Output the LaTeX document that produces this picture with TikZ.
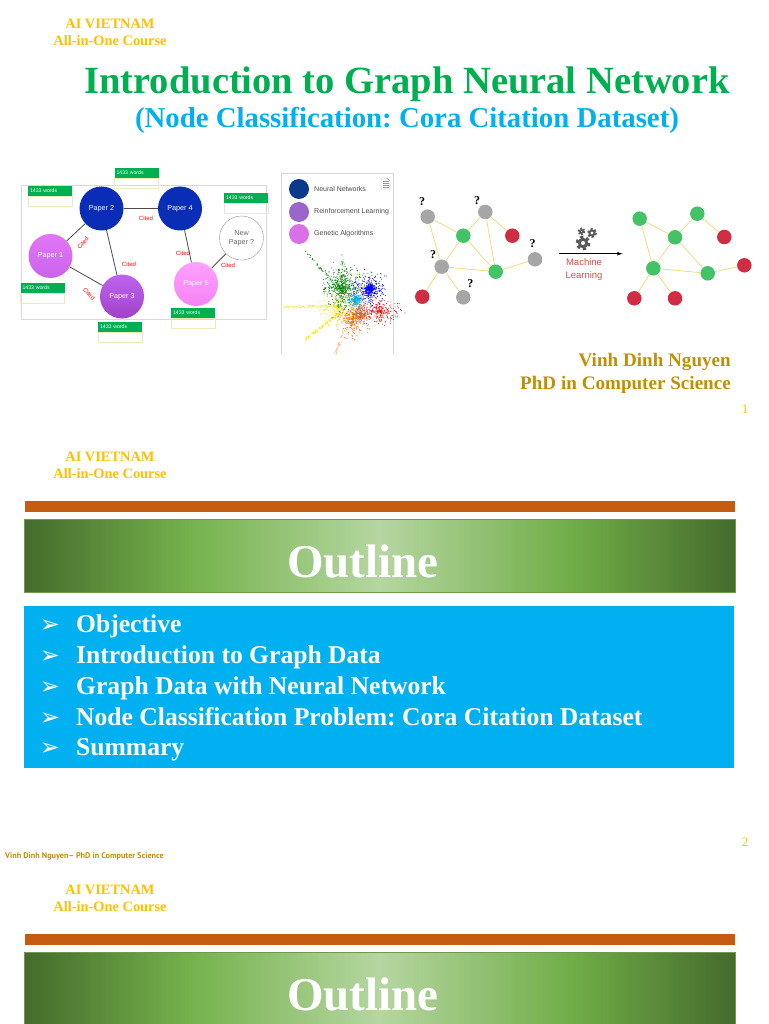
\documentclass[tikz,border=0pt]{standalone}
\usepackage{fontspec}
\setmainfont{Liberation Serif}
\setsansfont{Liberation Sans}
\newfontfamily\symfont{DejaVu Sans}
\newfontfamily\footfont{PT Sans}
\usetikzlibrary{positioning}
\frenchspacing
\definecolor{aigold}{HTML}{FFC000}
\definecolor{authorgold}{HTML}{BF9000}
\definecolor{titlegreen}{HTML}{00B050}
\definecolor{skyblue}{HTML}{00B0F0}
\definecolor{rustbar}{HTML}{C55A11}
\definecolor{nodegreen}{HTML}{44C267}
\definecolor{nodered}{HTML}{D02C42}
\definecolor{nodegray}{HTML}{A6A6A6}
\definecolor{edgeyellow}{HTML}{F5D76E}
\definecolor{paperblue}{HTML}{0A2DB8}
\definecolor{wordrim}{HTML}{EFE9C0}
\definecolor{bandrim}{HTML}{6E9A4E}
\pgfdeclarehorizontalshading{outlineband}{100bp}{
	rgb(0bp)=(0.27,0.42,0.17);
	rgb(25bp)=(0.27,0.42,0.17);
	rgb(36.75bp)=(0.46,0.70,0.30);
	rgb(50bp)=(0.71,0.84,0.63);
	rgb(63.5bp)=(0.44,0.68,0.28);
	rgb(75bp)=(0.27,0.42,0.17);
	rgb(100bp)=(0.27,0.42,0.17)}
\newcommand{\pxfont}[1]{\fontsize{#1}{#1}\selectfont}
% dots around a centre
\newcommand{\scatterblob}[6]{
	\foreach \i in {1,...,#6} {
		\pgfmathsetmacro{\dotx}{#2+#4*rand*rnd}
		\pgfmathsetmacro{\doty}{#3+#5*rand*rnd}
		\fill[#1] (\dotx,\doty) circle (0.5);
	}
}
% dots along a ray
\newcommand{\scatterray}[6]{
	\foreach \i in {1,...,#6} {
		\pgfmathsetmacro{\raypos}{rnd}
		\pgfmathsetmacro{\dotx}{#2+(#4-#2)*\raypos+1.2*rand}
		\pgfmathsetmacro{\doty}{#3+(#5-#3)*\raypos+1.2*rand}
		\fill[#1] (\dotx,\doty) circle (0.5);
	}
}
\newcommand{\gearicon}[3]{
	\draw[black!65, line width=#3*0.45, dash pattern=on #3*0.5 off #3*0.5] (#1,#2) circle (#3*0.95);
	\draw[black!65, line width=#3*0.45] (#1,#2) circle (#3*0.6);
}
\tikzset{
	aiheader/.style={text=aigold, font=\bfseries\pxfont{14.4}, align=center},
	papernode/.style={circle, minimum size=44pt, inner sep=0pt, text=white, font=\sffamily\pxfont{7.2}},
	cited/.style={text=red, font=\sffamily\pxfont{6}, inner sep=0pt},
	citeline/.style={black!70, line width=0.8pt},
	wordhead/.style={fill=titlegreen, text=white, font=\sffamily\pxfont{5.2}, minimum width=44pt, minimum height=10pt, inner sep=0pt, text width=40pt, align=left},
	wordbox/.style={draw=wordrim, line width=0.6pt, minimum width=44pt, minimum height=10pt, inner sep=0pt},
	graphnode/.style={circle, minimum size=14.5pt, inner sep=0pt},
	greennode/.style={graphnode, fill=nodegreen},
	rednode/.style={graphnode, fill=nodered},
	graynode/.style={graphnode, fill=nodegray},
	graphedge/.style={edgeyellow, line width=0.7pt},
	query/.style={font=\bfseries\pxfont{12}, inner sep=0pt},
	legendtext/.style={text=black!70, font=\sffamily\pxfont{7}, anchor=west, inner sep=0pt},
	legenddisc/.style={circle, minimum size=20pt, inner sep=0pt},
	outlinetext/.style={text=white, font=\bfseries\pxfont{47}},
	bullettext/.style={text=white, font=\bfseries\pxfont{25.6}, anchor=base west, inner sep=0pt},
	bulletmark/.style={text=white, font=\symfont\bfseries\pxfont{24}, anchor=base, inner sep=0pt},
	authortext/.style={text=authorgold, font=\bfseries\pxfont{19.1}, anchor=east, inner sep=0pt},
	pagenum/.style={text=aigold, font=\pxfont{13}, inner sep=0pt},
}
\begin{document}
\begin{tikzpicture}[x=1pt, y=-1pt]
	\useasboundingbox (0,0) rectangle (768,1024);
	\fill[white] (0,0) rectangle (768,1024);
	\pgfmathsetseed{4711}

	% first slide
	\node[aiheader] (ai_1) at (110,24) {AI VIETNAM};
	\node[aiheader] (course_1) at (110,41) {All-in-One Course};
	\node[text=titlegreen, font=\bfseries\pxfont{38.5}] (title) at (407,84) {Introduction to Graph Neural Network};
	\node[text=skyblue, font=\bfseries\pxfont{28.8}] (subtitle) at (407,120) {(Node Classification: Cora Citation Dataset)};

	% papers
	\draw[black!15, line width=0.7pt] (21,185) rectangle (266,319);
	\node[papernode, fill=paperblue] (paper_2) at (101.5,208.5) {Paper 2};
	\node[papernode, fill=paperblue] (paper_4) at (180,208.5) {Paper 4};
	\node[papernode, top color={rgb,255:red,228;green,118;blue,248}, bottom color={rgb,255:red,200;green,100;blue,235}] (paper_1) at (50.5,256) {Paper 1};
	\node[papernode, top color={rgb,255:red,190;green,100;blue,240}, bottom color={rgb,255:red,160;green,65;blue,200}] (paper_3) at (122,296.5) {Paper 3};
	\node[papernode, top color={rgb,255:red,255;green,160;blue,255}, bottom color={rgb,255:red,245;green,130;blue,245}] (paper_5) at (196,284) {Paper 5};
	\node[papernode, draw=black!40, fill=white, text=black!60, align=center] (paper_new) at (241.5,238) {New\\[2pt]Paper ?};
	\draw[citeline] (paper_2) -- (paper_4);
	\draw[citeline] (paper_2) -- (paper_1);
	\draw[citeline] (paper_2) -- (paper_3);
	\draw[citeline] (paper_1) -- (paper_3);
	\draw[citeline] (paper_4) -- (paper_5);
	\draw[citeline] (paper_5) -- (paper_new);
	\node[cited] (cite_a) at (146,218) {Cited};
	\node[cited, rotate=50] (cite_b) at (83,243) {Cited};
	\node[cited] (cite_c) at (129,264) {Cited};
	\node[cited] (cite_d) at (183,253) {Cited};
	\node[cited] (cite_e) at (228,265) {Cited};
	\node[cited, rotate=-45] (cite_f) at (89,294) {Cited};
	\foreach \wx/\wy [count=\wn] in {136.5/173, 50/191, 246/198, 42.5/288, 193/313, 120/327} {
		\node[wordhead] (head_\wn) at (\wx,\wy) {1433 words};
		\node[wordbox, below=0pt of head_\wn] (box_\wn) {};
	}

	% cluster panel
	\draw[black!15, line width=0.6pt] (281,355) -- (281,173) -- (393,173) -- (393,355);
	\node[legenddisc, fill={rgb,255:red,10;green,58;blue,140}] (legend_1) at (299,189) {};
	\node[legenddisc, fill={rgb,255:red,153;green,102;blue,204}] (legend_2) at (299,212) {};
	\node[legenddisc, fill={rgb,255:red,218;green,112;blue,232}] (legend_3) at (299,234) {};
	\node[legendtext] (label_1) at (314,189) {Neural Networks};
	\node[legendtext] (label_2) at (314,212) {Reinforcement Learning};
	\node[legendtext] (label_3) at (314,234) {Genetic Algorithms};
	\draw[black!40, line width=0.4pt, fill=white] (381,178) -- (387,178) -- (390,181) -- (390,189) -- (381,189) -- cycle;
	\foreach \ly in {181.5,183.5,185.5,187} {
		\draw[black!40, line width=0.3pt] (382.5,\ly) -- (388.5,\ly);
	}
	\scatterray{yellow!90!orange}{340}{306}{282}{307}{90}
	\scatterray{yellow!90!orange}{340}{312}{305}{340}{110}
	\scatterray{orange!60!white}{350}{315}{335}{355}{60}
	\scatterray{green!50!black}{335}{285}{305}{251}{45}
	\scatterray{green!40!black!50}{345}{290}{342}{254}{25}
	\scatterblob{yellow!90!orange}{338}{310}{26}{22}{200}
	\scatterblob{green!50!black}{342}{288}{24}{28}{600}
	\scatterblob{orange!85!red}{353}{318}{22}{24}{350}
	\scatterblob{blue}{370}{289}{20}{20}{350}
	\scatterblob{red!90!black}{380}{311}{26}{17}{260}
	\scatterblob{brown!80!red}{361}{314}{13}{13}{220}
	\scatterblob{cyan}{355}{300}{10}{9}{200}
	\scatterblob{blue}{370}{289}{7}{7}{150}

	% graph before
	\node[graynode] (a_1) at (427.7,216.7) {};
	\node[greennode] (a_2) at (463.3,235.7) {};
	\node[graynode] (a_3) at (485.3,212) {};
	\node[rednode] (a_4) at (512.3,235.7) {};
	\node[graynode] (a_5) at (535,259.3) {};
	\node[greennode] (a_6) at (495.7,271.7) {};
	\node[graynode] (a_7) at (441.7,266.7) {};
	\node[rednode] (a_8) at (422.3,296.7) {};
	\node[graynode] (a_9) at (463.3,297.3) {};
	\foreach \from/\to in {1/2,1/7,2/3,2/7,2/6,3/4,3/6,5/6,6/7,7/8,7/9} {
		\draw[graphedge] (a_\from) -- (a_\to);
	}
	\node[query] (q_1) at (422,201.7) {?};
	\node[query] (q_2) at (477,200.7) {?};
	\node[query] (q_3) at (433,255) {?};
	\node[query] (q_4) at (532.7,244) {?};
	\node[query] (q_5) at (470.3,284) {?};

	% machine learning arrow
	\coordinate (ml_start) at (558.5,253.7);
	\coordinate (ml_end) at (622.5,253.7);
	\draw[-latex, black, line width=0.8pt] (ml_start) -- (ml_end);
	\gearicon{583}{243}{6.2}
	\gearicon{581.5}{231.5}{3.3}
	\gearicon{592}{233}{4.2}
	\node[text={rgb,255:red,208;green,80;blue,74}, font=\sffamily\pxfont{9.5}, align=center, inner sep=0pt] (ml_label) at (584,269.5) {Machine\\[3pt]Learning};

	% graph after
	\node[greennode] (b_1) at (639.7,218.7) {};
	\node[greennode] (b_2) at (675,237.3) {};
	\node[greennode] (b_3) at (697.3,213.7) {};
	\node[rednode] (b_4) at (724.3,237) {};
	\node[rednode] (b_5) at (744.3,265.3) {};
	\node[greennode] (b_6) at (707.7,273.3) {};
	\node[greennode] (b_7) at (653.3,268.3) {};
	\node[rednode] (b_8) at (634.3,298.3) {};
	\node[rednode] (b_9) at (675,298.3) {};
	\foreach \from/\to in {1/2,1/7,2/3,2/7,2/6,3/4,5/6,6/7,7/8,7/9} {
		\draw[graphedge] (b_\from) -- (b_\to);
	}

	\node[authortext] (author) at (731,362) {Vinh Dinh Nguyen};
	\node[authortext] (degree) at (731,385) {PhD in Computer Science};
	\node[pagenum] (page_1) at (745,409) {1};

	% second slide
	\node[aiheader] (ai_2) at (110,457) {AI VIETNAM};
	\node[aiheader] (course_2) at (110,474) {All-in-One Course};
	\fill[rustbar] (25,501) rectangle (735,512);
	\shadedraw[shading=outlineband, draw=bandrim, line width=0.5pt] (24,519) rectangle (735,592);
	\node[outlinetext] (outline_2) at (363,561) {Outline};
	\fill[skyblue] (24,606) rectangle (734,768);
	\foreach \ty/\txt [count=\tn] in {632.7/Objective, 663/Introduction to Graph Data, 694/Graph Data with Neural Network, 725/Node Classification Problem: Cora Citation Dataset, 755/Summary} {
		\node[bulletmark] (mark_\tn) at (50,\ty) {➢};
		\node[bullettext] (item_\tn) at (76,\ty) {\txt};
	}
	\node[pagenum] (page_2) at (745,842) {2};
	\node[text=authorgold, font=\footfont\bfseries\pxfont{8.2}, anchor=west, inner sep=0pt] (footer) at (5,856.5) {Vinh Dinh Nguyen– PhD in Computer Science};

	% third slide
	\node[aiheader] (ai_3) at (110,890) {AI VIETNAM};
	\node[aiheader] (course_3) at (110,907) {All-in-One Course};
	\fill[rustbar] (25,934) rectangle (735,945);
	\shadedraw[shading=outlineband, draw=bandrim, line width=0.5pt] (24,952) rectangle (735,1024);
	\node[outlinetext] (outline_3) at (363,994) {Outline};
\end{tikzpicture}
\end{document}
